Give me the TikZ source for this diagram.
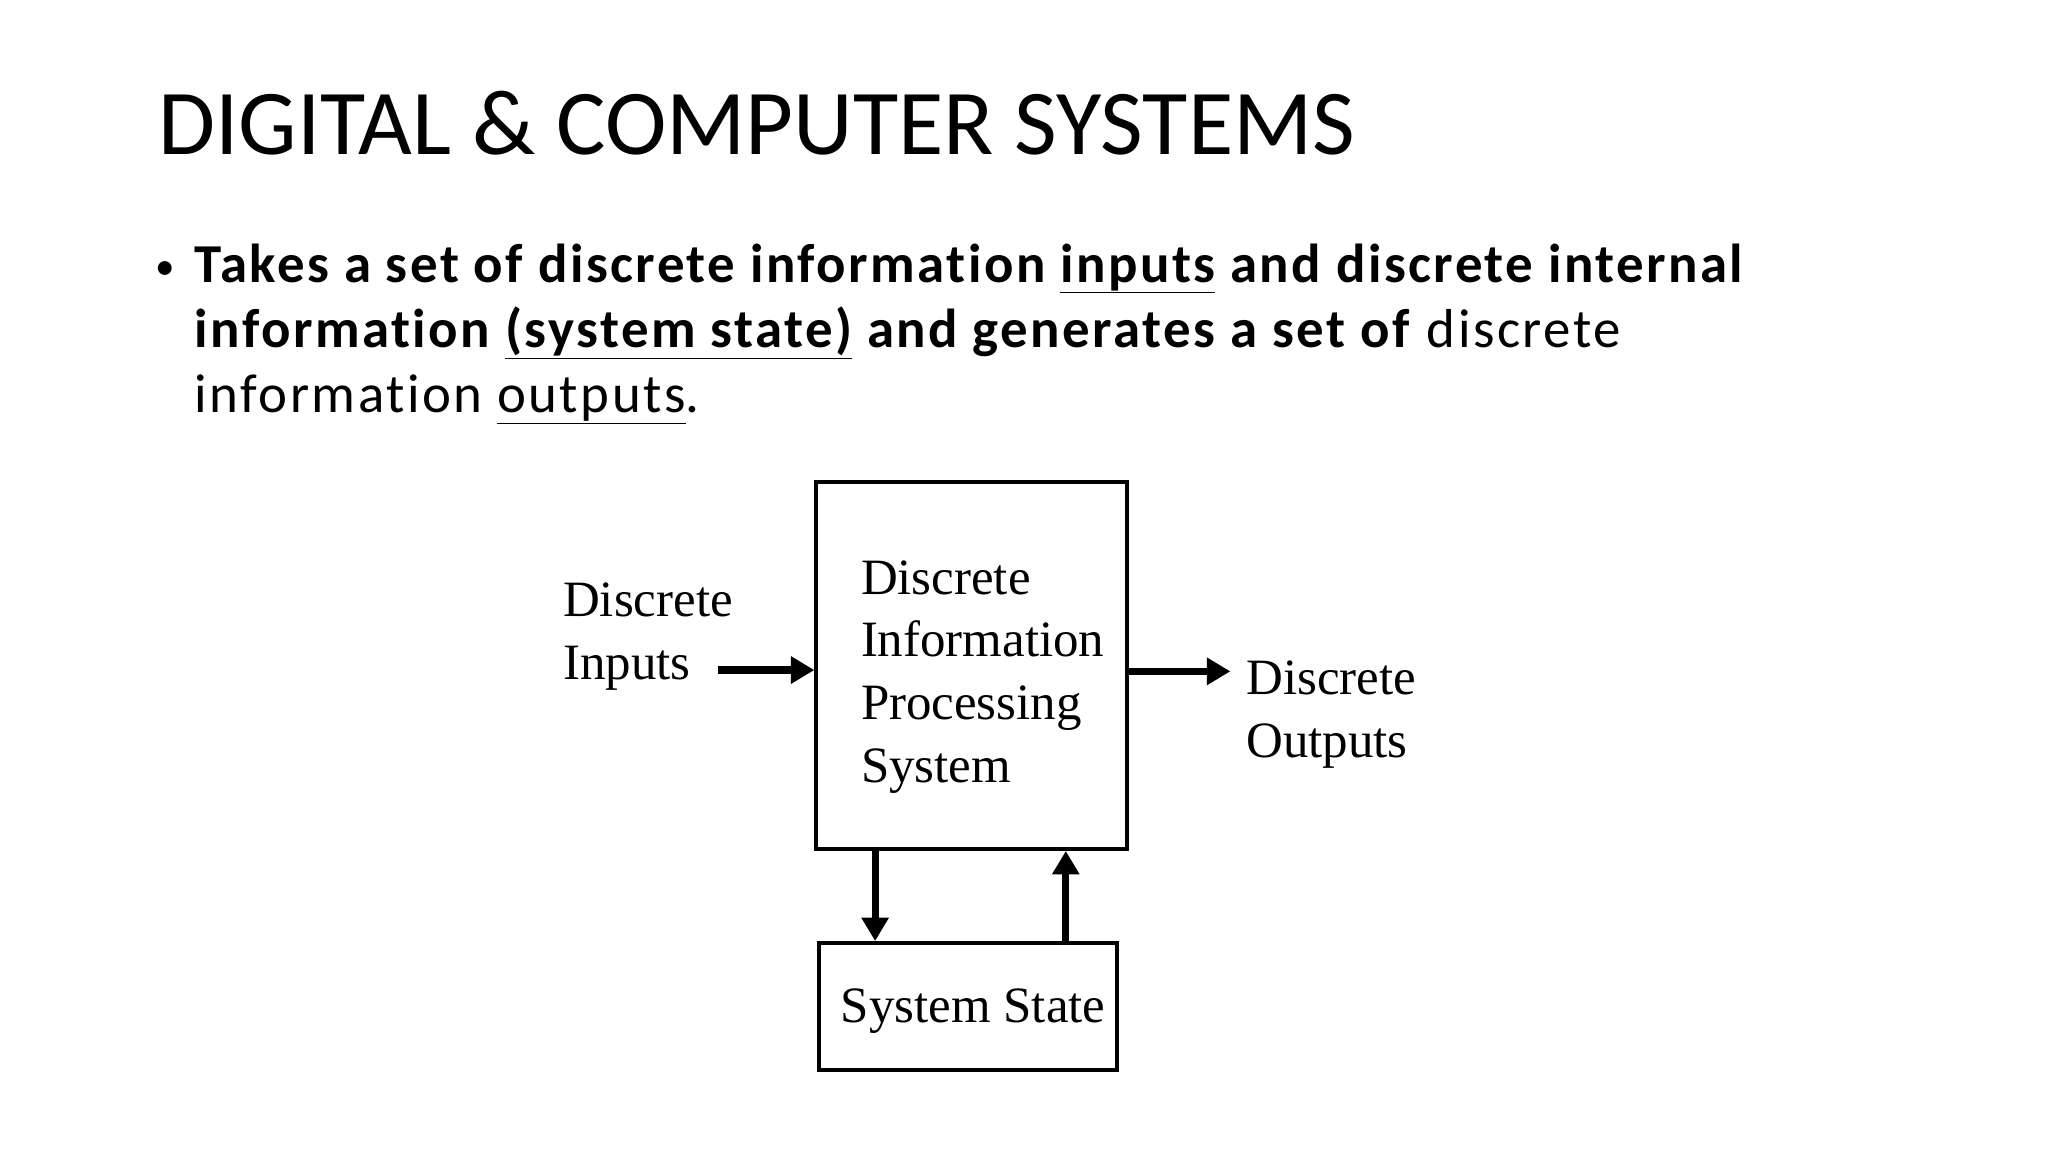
\documentclass[tikz,border=0pt]{standalone}
\usepackage{fontspec}
\setmainfont{Carlito}[Ligatures=NoCommon]
\newfontfamily\bulf{Carlito}[Ligatures=NoCommon,LetterSpace=4.5]
\newfontfamily\tnr{Liberation Serif}
\usetikzlibrary{arrows.meta}
\newcommand{\ul}[1]{\underline{#1}}
\begin{document}
\begin{tikzpicture}[x=1pt,y=-1pt,
  box/.style={draw,line width=3pt},
  arr/.style={line width=5.5pt,-{Triangle[length=18pt,width=20pt]}},
  lab/.style={anchor=base west,inner sep=0pt,font=\tnr\fontsize{39}{48}\selectfont},
  bl/.style={anchor=base west,inner sep=0pt,font=\bulf\fontsize{42}{50}\selectfont}]
\useasboundingbox (0,0) rectangle (1568,882);
\node[anchor=base west,inner sep=0pt,font=\fontsize{71}{80}\selectfont] (title) at (121,118) {DIGITAL \& COMPUTER SYSTEMS};
\node[anchor=base west,inner sep=0pt,font=\fontsize{30}{40}\selectfont] (bul) at (119,214) {•};
\node[bl] (l1) at (149,216) {\textbf{Takes a set of discrete information \ul{inputs} and discrete internal}};
\node[bl] (l2) at (149,266) {\textbf{information \ul{(system state)} and generates a set of} discrete};
\node[bl] (l3) at (149,316) {information \ul{outputs}.};
\node[box,minimum width=238pt,minimum height=281pt] (main) at (744,509.5) {};
\node[box,minimum width=228pt,minimum height=97pt] (state) at (741,770.5) {};
\node[lab] (m1) at (659,455) {Discrete};
\node[lab] (m2) at (659,503) {Information};
\node[lab] (m3) at (659,551) {Processing};
\node[lab] (m4) at (659,599) {System};
\node[lab] (i1) at (431,472) {Discrete};
\node[lab] (i2) at (431,520) {Inputs};
\node[lab] (o1) at (954,532) {Discrete};
\node[lab] (o2) at (954,580) {Outputs};
\node[anchor=base,inner sep=0pt,font=\tnr\fontsize{39}{48}\selectfont] (st) at (745,783) {System State};
\coordinate (ia) at (550,513);
\coordinate (ob) at (942,514);
\draw[arr] (ia) -- (main.west|-ia);
\draw[arr] (main.east|-ob) -- (ob);
\draw[arr] (main.south-|670,0) -- (state.north-|670,0);
\draw[arr] (state.north-|816,0) -- (main.south-|816,0);
\end{tikzpicture}
\end{document}
